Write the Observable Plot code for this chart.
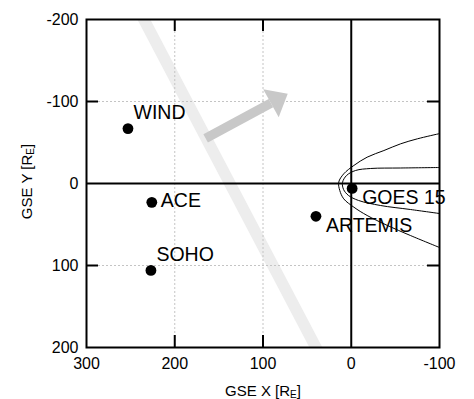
<!DOCTYPE html>
<html>
<head>
<meta charset="utf-8">
<script src="https://cdn.jsdelivr.net/npm/d3@7"></script>
<script src="https://cdn.jsdelivr.net/npm/@observablehq/plot@0.6"></script>
<style>
  html, body { margin: 0; padding: 0; background: #fff; overflow: hidden; }
</style>
</head>
<body>
<div id="chart"></div>
<script>
// Spacecraft positions (GSE, Earth radii)
const spacecraft = ["WIND", "ACE", "SOHO", "GOES 15", "ARTEMIS"];
const scX = [253, 226, 227, -1, 40];
const scY = [-67, 23, 106, 6, 40];

// Axis ticks
const xTicks = [300, 200, 100, 0, -100];
const yTicks = [-200, -100, 0, 100, 200];
const xGrid = [200, 100];
const yGrid = [-100, 100];

// Bow shock curve
const bowX = [-99, -75, -56, -37, -18, -3, 8.5, 14.2, 13, 8.5, -3, -18, -41, -67, -99];
const bowY = [-60.6, -54.5, -48.4, -40.2, -32.1, -22, -11.8, -1.6, 8.5, 18.7, 28.9, 39, 51.2, 63.4, 77.6];

// Magnetopause curve
const mpX = [-100, -56, -22, -5, 5.3, 9.9, 8.7, 3.1, -8.3, -33, -67, -100];
const mpY = [-19.5, -18.9, -18.3, -15.9, -9.8, -1.2, 7.3, 14.6, 20.7, 26.8, 31.7, 36.6];

// Grey band (shock front) and propagation arrow (tail, head base)
const bandX = [235, 40];
const bandY = [-200, 200];
const arrowX = [165, 91];
const arrowY = [-55, -98];

const sc = spacecraft.map((name, i) => ({name, x: scX[i], y: scY[i]}));
const bow = bowX.map((x, i) => ({x, y: bowY[i]}));
const mp = mpX.map((x, i) => ({x, y: mpY[i]}));
const band = [{x1: bandX[0], y1: bandY[0], x2: bandX[1], y2: bandY[1]}];
const arrow = [{x1: arrowX[0], y1: arrowY[0], x2: arrowX[1], y2: arrowY[1]}];

const headSymbol = {
  draw(ctx, size) {
    const r = Math.sqrt(size / Math.PI);
    const a = 61 * Math.PI / 180;
    const pts = [[0, -1.2 * r], [r, 0], [-r, 0]].map(([x, y]) =>
      [x * Math.cos(a) - y * Math.sin(a), x * Math.sin(a) + y * Math.cos(a)]);
    ctx.moveTo(pts[0][0], pts[0][1]);
    ctx.lineTo(pts[1][0], pts[1][1]);
    ctx.lineTo(pts[2][0], pts[2][1]);
    ctx.closePath();
  }
};

const fmt = d => String(d);
const labelFont = 19.5;
const grey = "#c8c8c8";

const chart = Plot.plot({
  width: 474,
  height: 399,
  marginLeft: 86,
  marginRight: 35,
  marginTop: 19,
  marginBottom: 52,
  style: {fontFamily: "'Liberation Sans', Arial, Helvetica, sans-serif", fontSize: "16px", background: "#fff", color: "#000"},
  x: {domain: [300, -100], ticks: xTicks, tickSize: 0, tickPadding: 10, tickFormat: fmt, label: null},
  y: {domain: [-200, 200], reverse: true, ticks: yTicks, tickSize: 0, tickPadding: 8, tickFormat: fmt, label: null},
  marks: [
    Plot.link(band, {x1: "x1", y1: "y1", x2: "x2", y2: "y2", stroke: "#ededed", strokeWidth: 11.5, strokeLinecap: "square", clip: true}),
    Plot.ruleX(xGrid, {stroke: "#c4c4c4", strokeDasharray: "2,2", strokeWidth: 1}),
    Plot.ruleY(yGrid, {stroke: "#c4c4c4", strokeDasharray: "2,2", strokeWidth: 1}),
    Plot.link(arrow, {x1: "x1", y1: "y1", x2: "x2", y2: "y2", stroke: grey, strokeWidth: 9.5, strokeLinecap: "butt"}),
    Plot.dot(arrow, {x: "x2", y: "y2", r: 16, symbol: headSymbol, fill: grey, stroke: "none"}),
    Plot.line(bow, {x: "x", y: "y", curve: "catmull-rom", stroke: "#000", strokeWidth: 1}),
    Plot.line(mp, {x: "x", y: "y", curve: "catmull-rom", stroke: "#000", strokeWidth: 1}),
    Plot.ruleX([0], {stroke: "#000", strokeWidth: 2}),
    Plot.ruleY([0], {stroke: "#000", strokeWidth: 2}),
    Plot.ruleX(xGrid, {stroke: "#000", strokeWidth: 2, insetBottom: 316}),
    Plot.ruleX(xGrid, {stroke: "#000", strokeWidth: 2, insetTop: 316}),
    Plot.ruleY(yGrid, {stroke: "#000", strokeWidth: 2, insetRight: 341}),
    Plot.ruleY(yGrid, {stroke: "#000", strokeWidth: 2, insetLeft: 341}),
    Plot.frame({stroke: "#000", strokeWidth: 2}),
    Plot.dot(sc, {x: "x", y: "y", r: 5.4, fill: "#000", stroke: "none"}),
    Plot.text(sc.filter(d => d.name === "WIND" || d.name === "SOHO"), {x: "x", y: "y", text: "name", textAnchor: "start", lineAnchor: "middle", dx: 5.5, dy: -16, fontSize: labelFont, fill: "#000"}),
    Plot.text(sc.filter(d => d.name === "ACE"), {x: "x", y: "y", text: "name", textAnchor: "start", lineAnchor: "middle", dx: 9, dy: -1.5, fontSize: labelFont, fill: "#000"}),
    Plot.text(sc.filter(d => d.name === "GOES 15" || d.name === "ARTEMIS"), {x: "x", y: "y", text: "name", textAnchor: "start", lineAnchor: "middle", dx: 10, dy: 9, fontSize: labelFont, fill: "#000"}),
    Plot.text(["GSE Y [RE]"], {frameAnchor: "left", text: d => d, rotate: -90, dx: -59.5, dy: -2, textAnchor: "middle", lineAnchor: "middle", fontSize: 15, fill: "#000"}),
    Plot.text(["GSE X [RE]"], {frameAnchor: "bottom", text: d => d, dy: 43.5, textAnchor: "middle", lineAnchor: "middle", fontSize: 15, fill: "#000"})
  ]
});

// Subscript "E" in the axis titles
chart.querySelectorAll("text").forEach(t => {
  const s = t.textContent;
  if (s === "GSE Y [RE]" || s === "GSE X [RE]") {
    const base = s.slice(0, s.length - 3);
    t.innerHTML = "";
    const ns = "http://www.w3.org/2000/svg";
    t.appendChild(document.createTextNode(base + "R"));
    const sub = document.createElementNS(ns, "tspan");
    sub.setAttribute("font-size", "10");
    sub.setAttribute("dy", "2.5");
    sub.textContent = "E";
    t.appendChild(sub);
    const close = document.createElementNS(ns, "tspan");
    close.setAttribute("dy", "-2.5");
    close.textContent = "]";
    t.appendChild(close);
  }
});

document.getElementById("chart").appendChild(chart);
</script>
</body>
</html>
